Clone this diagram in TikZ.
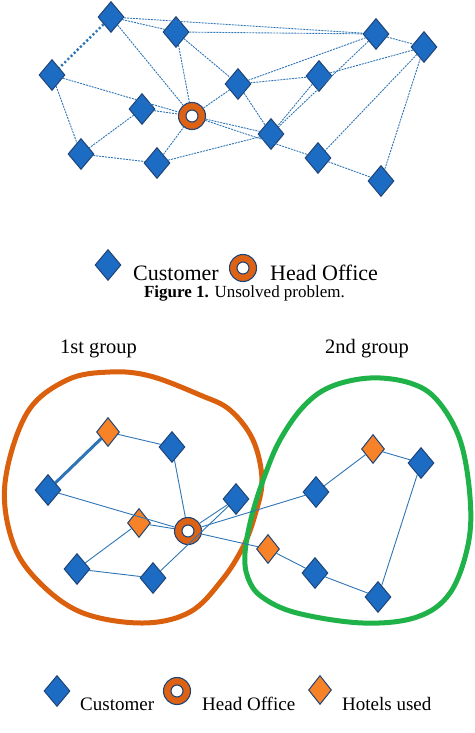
\documentclass[tikz,border=0pt]{standalone}
\usepackage{fontspec}
\setmainfont{Liberation Serif}
\usetikzlibrary{shapes.geometric}
\definecolor{navy}{RGB}{32,68,118}
\definecolor{custblue}{RGB}{28,108,196}
\definecolor{edgeblue}{RGB}{46,117,182}
\definecolor{hoorange}{RGB}{222,98,20}
\definecolor{hotelorange}{RGB}{247,130,40}
\definecolor{grouporange}{RGB}{218,96,14}
\definecolor{groupgreen}{RGB}{30,178,72}
\tikzset{
  cust/.style={diamond, minimum width=26pt, minimum height=31pt, inner sep=0pt, fill=custblue, draw=navy, line width=1pt},
  hotel/.style={diamond, minimum width=23pt, minimum height=29pt, inner sep=0pt, fill=hotelorange, draw=navy, line width=1pt},
  ho/.style={circle, minimum size=27pt, inner sep=0pt, fill=hoorange, draw=navy, line width=1.1pt,
    path picture={\draw[navy, line width=1.1pt, fill=white] (path picture bounding box.center) circle (6pt);}},
  dedge/.style={edgeblue, line width=0.9pt, dash pattern=on 2pt off 1pt},
  dotedge/.style={edgeblue, line width=2.4pt, dash pattern=on 2.2pt off 2.2pt},
  sedge/.style={edgeblue, line width=0.9pt},
  thickedge/.style={edgeblue, line width=3pt},
  blob/.style={line width=5pt},
  lbl/.style={inner sep=0pt, anchor=base west},
}
\begin{document}
\begin{tikzpicture}[x=1pt, y=-1pt]
\useasboundingbox (0,0) rectangle (474,733);
% ---------- Figure 1 ----------
\node[cust] (A) at (111,17) {};
\node[cust] (B) at (176,32) {};
\node[cust] (C) at (52,75) {};
\node[cust] (D) at (142,109) {};
\node[ho]   (HA) at (192,116) {};
\node[cust] (E) at (81,154) {};
\node[cust] (F) at (157,163) {};
\node[cust] (G) at (238,84) {};
\node[cust] (H) at (376,34) {};
\node[cust] (I) at (424,47) {};
\node[cust] (J) at (319,76) {};
\node[cust] (K) at (271,134) {};
\node[cust] (L) at (318,158) {};
\node[cust] (M) at (381,181) {};
\draw[dotedge] (A) -- (C);
\foreach \a/\b in {A/B, A/H, B/H, A/HA, B/HA, B/G, C/HA, C/E, D/HA, D/E, E/F, F/HA, F/K,
  HA/G, HA/K, HA/L, G/H, G/J, G/K, J/K, J/I, H/I, H/K, I/L, I/M, L/M}
  \draw[dedge] (\a) -- (\b);
% legend 1
\node[cust] (lc1) at (108,265) {};
\node[lbl, font=\fontsize{22}{26}\selectfont] (lt1) at (133,280) {Customer};
\node[ho] (lh1) at (243,268) {};
\node[lbl, font=\fontsize{22}{26}\selectfont] (lt2) at (270,280) {Head Office};
\node[inner sep=0pt, anchor=base, font=\fontsize{17}{20}\selectfont] (cap) at (244.5,297) {\textbf{Figure 1.} Unsolved problem.};
% ---------- Figure 2 ----------
\node[inner sep=0pt, anchor=base, font=\fontsize{20.5}{24}\selectfont] (g1) at (98.5,353) {1st group};
\node[inner sep=0pt, anchor=base, font=\fontsize{20.5}{24}\selectfont] (g2) at (367,353) {2nd group};
\draw[blob, grouporange] plot[smooth cycle, tension=0.6] coordinates {
  (5,483) (13,543) (40,583) (83,613) (143,623) (190,612) (222,580) (243,547) (255,515) (262,480)
  (253,440) (230,410) (200,395) (150,376) (110,372) (67,380) (27,413)};
\draw[blob, groupgreen] plot[smooth cycle, tension=0.6] coordinates {
  (370,378) (330,387) (303,407) (280,440) (265,475) (252,515) (245,553) (248,578) (262,597)
  (297,613) (363,623) (417,617) (450,593) (468,545) (470,497) (460,440) (437,400) (410,383)};
\node[hotel] (O1) at (108,432) {};
\node[cust]  (P1) at (172,447) {};
\node[cust]  (P2) at (48,490) {};
\node[hotel] (O2) at (139,523) {};
\node[ho]    (HB) at (188,531) {};
\node[cust]  (P3) at (77,569) {};
\node[cust]  (P4) at (153,578) {};
\node[cust]  (P5) at (236,499) {};
\node[cust]  (Q1) at (316,492) {};
\node[hotel] (O3) at (373,449) {};
\node[cust]  (Q2) at (421,463) {};
\node[hotel] (O4) at (268,549) {};
\node[cust]  (Q3) at (315,573) {};
\node[cust]  (Q4) at (378,597) {};
\draw[thickedge] (P2) -- (O1);
\foreach \a/\b in {O1/P1, P1/HB, P2/HB, O2/HB, O2/P3, P3/P4, P4/P5, P5/HB, HB/Q1, Q1/O3, O3/Q2,
  Q2/Q4, Q4/Q3, Q3/O4, O4/HB}
  \draw[sedge] (\a) -- (\b);
% legend 2
\node[cust] (lc2) at (57,691) {};
\node[lbl, font=\fontsize{19}{22}\selectfont] (lt3) at (80,710) {Customer};
\node[ho] (lh2) at (177,691) {};
\node[lbl, font=\fontsize{19}{22}\selectfont] (lt4) at (202,710) {Head Office};
\node[hotel] (lo2) at (320,690) {};
\node[lbl, font=\fontsize{19}{22}\selectfont] (lt5) at (342,710) {Hotels used};
\end{tikzpicture}
\end{document}
